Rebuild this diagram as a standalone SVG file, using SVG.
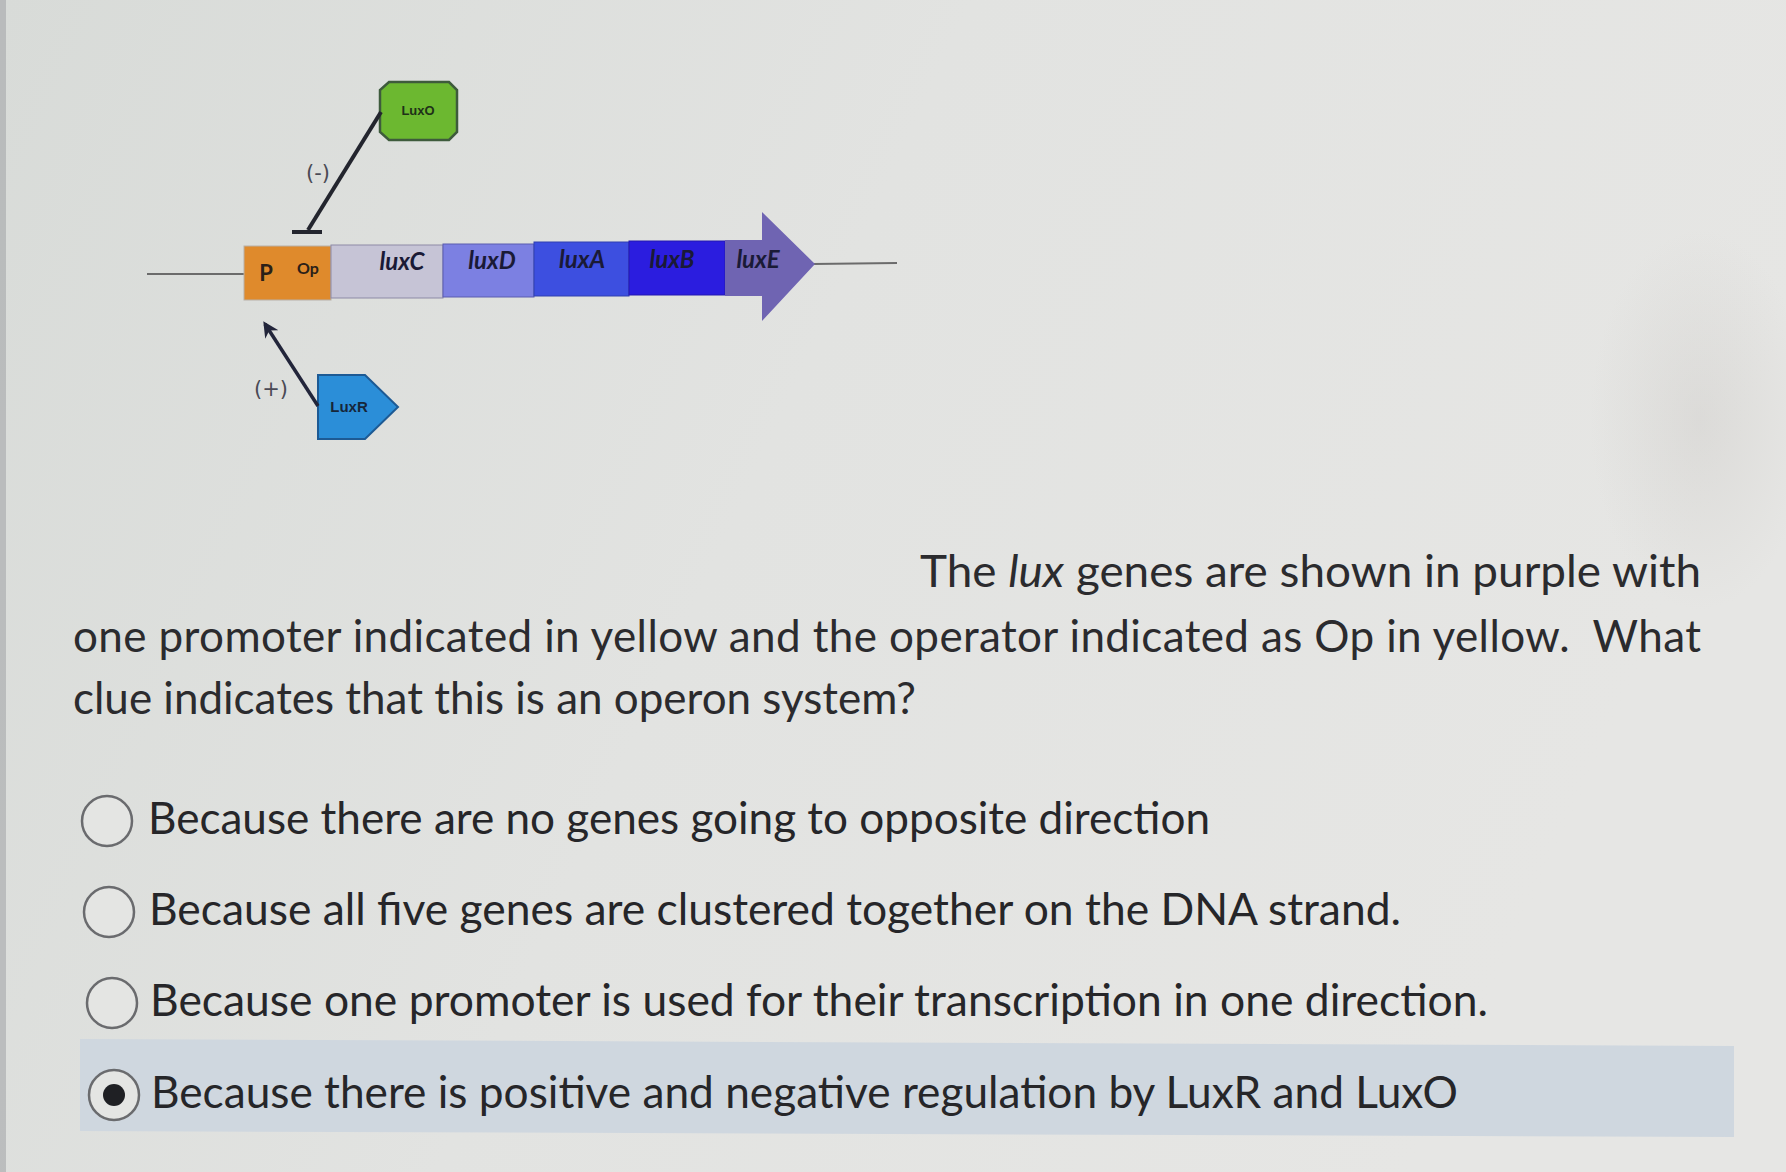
<svg xmlns="http://www.w3.org/2000/svg" width="1786" height="1172" viewBox="0 0 1786 1172">
<defs>
<linearGradient id="bg" x1="0" y1="0" x2="1" y2="0.3">
<stop offset="0" stop-color="#d8dbd8"/>
<stop offset="0.5" stop-color="#e2e3e1"/>
<stop offset="1" stop-color="#e6e6e4"/>
</linearGradient>
<radialGradient id="shade" cx="0.5" cy="0.5" r="0.5">
<stop offset="0" stop-color="#cfcdca" stop-opacity="0.45"/>
<stop offset="1" stop-color="#cfcdca" stop-opacity="0"/>
</radialGradient>
<marker id="arr" viewBox="0 0 10 10" refX="8" refY="5" markerWidth="4.5" markerHeight="4.5" orient="auto">
<path d="M0,0 L10,5 L0,10 L3,5 Z" fill="#22253a"/>
</marker>
<style>
.gene{font-family:Lato,"Liberation Sans",sans-serif;font-weight:bold;font-style:italic;font-size:24px;fill:#1a1a36;text-anchor:middle}
.q{font-family:Lato,"Liberation Sans",sans-serif;font-size:44px;fill:#2b2b2e}
.opt{font-family:Lato,"Liberation Sans",sans-serif;font-size:44px;fill:#262629}
.radio{fill:#e4e5e3;stroke:#6a6b6e;stroke-width:2.5}
.sign{font-family:"DejaVu Sans","Liberation Sans",sans-serif;font-size:21px;fill:#4a4a55;text-anchor:middle}
</style>
</defs>
<rect width="1786" height="1172" fill="url(#bg)"/>
<ellipse cx="1700" cy="420" rx="110" ry="190" fill="url(#shade)"/>
<rect x="0" y="0" width="6" height="1172" fill="#9a9ca0" opacity="0.5"/>

<g id="dna">
<line x1="147" y1="274" x2="246" y2="274" stroke="#6b6b6b" stroke-width="2"/>
<line x1="813" y1="264" x2="897" y2="263" stroke="#6b6b6b" stroke-width="2"/>
</g>

<g id="promoter-operator">
<rect x="244" y="246" width="87" height="54" fill="#df8a2c" stroke="#b7b0a8" stroke-width="1"/>
<text x="266" y="281" font-family="Lato,'Liberation Sans',sans-serif" font-weight="bold" font-size="22" fill="#2a2018" text-anchor="middle">P</text>
<text x="308" y="274" font-family="Lato,'Liberation Sans',sans-serif" font-weight="bold" font-size="16" fill="#2a2018" text-anchor="middle">Op</text>
</g>

<g id="luxC">
<rect x="331" y="245" width="112" height="53" fill="#c6c4d6" stroke="#8d8aa6" stroke-width="1"/>
<text class="gene" x="402" y="270">luxC</text>
</g>
<g id="luxD">
<rect x="443" y="244" width="91" height="53" fill="#7c80e2" stroke="#5a5cb0" stroke-width="1"/>
<text class="gene" x="492" y="269">luxD</text>
</g>
<g id="luxA">
<rect x="534" y="242" width="95" height="54" fill="#3d4fe0" stroke="#3040b0" stroke-width="1"/>
<text class="gene" x="582" y="268">luxA</text>
</g>
<g id="luxB">
<rect x="629" y="241" width="96" height="54" fill="#2b1ddf" stroke="#2418b0" stroke-width="1"/>
<text class="gene" x="672" y="268">luxB</text>
</g>
<g id="luxE">
<path d="M725,240 L762,240 L762,212 L815,264 L762,321 L762,296 L725,296 Z" fill="#6f64b2"/>
<text class="gene" x="758" y="268">luxE</text>
</g>

<g id="LuxO">
<path d="M389,82 L449,82 L457,90 L457,132 L449,140 L389,140 L380,132 L380,90 Z" fill="#6cb830" stroke="#3e5b3c" stroke-width="2.5"/>
<text x="418" y="115" font-family="'Liberation Sans',sans-serif" font-weight="bold" font-size="13" fill="#203018" text-anchor="middle">LuxO</text>
</g>

<g id="LuxR">
<path d="M318,375 L365,375 L398,407 L365,439 L318,439 Z" fill="#2b8ed8" stroke="#1d5a94" stroke-width="2"/>
<text x="349" y="412" font-family="'Liberation Sans',sans-serif" font-weight="bold" font-size="15" fill="#16263a" text-anchor="middle">LuxR</text>
</g>

<g id="connectors">
<line x1="381" y1="112" x2="308" y2="230" stroke="#23252e" stroke-width="4"/>
<line x1="292" y1="232" x2="322" y2="232" stroke="#23252e" stroke-width="4"/>
<text class="sign" x="318" y="180">(-)</text>
<line x1="318" y1="406" x2="265" y2="324" stroke="#22253a" stroke-width="3.5" marker-end="url(#arr)"/>
<text class="sign" x="271" y="396">(+)</text>
</g>

<g id="question">
<text class="q" x="920" y="587" textLength="781" lengthAdjust="spacingAndGlyphs">The <tspan font-style="italic">lux</tspan> genes are shown in purple with</text>
<text class="q" x="73" y="652" xml:space="preserve" textLength="1628" lengthAdjust="spacing">one promoter indicated in yellow and the operator indicated as Op in yellow.  What</text>
<text class="q" x="73" y="714" textLength="843" lengthAdjust="spacingAndGlyphs">clue indicates that this is an operon system?</text>
</g>

<g id="options">
<circle class="radio" cx="107" cy="821" r="25"/>
<text class="opt" x="148" y="834" textLength="1062" lengthAdjust="spacingAndGlyphs">Because there are no genes going to opposite direction</text>
<circle class="radio" cx="109" cy="912" r="25"/>
<text class="opt" x="149" y="925" textLength="1252" lengthAdjust="spacingAndGlyphs">Because all five genes are clustered together on the DNA strand.</text>
<circle class="radio" cx="112" cy="1003" r="25"/>
<text class="opt" x="150" y="1016" textLength="1338" lengthAdjust="spacingAndGlyphs">Because one promoter is used for their transcription in one direction.</text>
<path d="M80,1039 L1734,1046 L1734,1137 L80,1131 Z" fill="#cfd7df"/>
<circle class="radio" cx="114" cy="1095" r="25" fill="#dfe4e8"/>
<circle cx="114" cy="1095" r="11" fill="#1f2024"/>
<text class="opt" x="151" y="1108" textLength="1307" lengthAdjust="spacingAndGlyphs">Because there is positive and negative regulation by LuxR and LuxO</text>
</g>
</svg>
